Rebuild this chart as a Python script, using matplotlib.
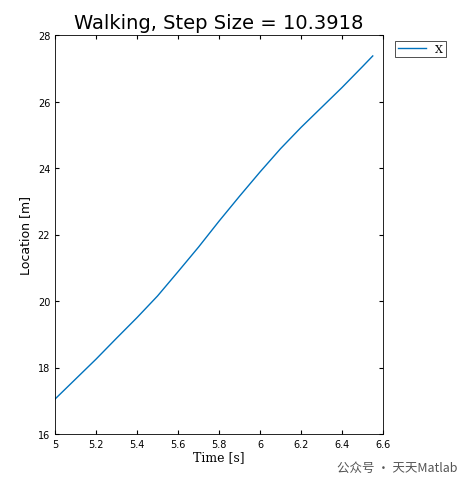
import matplotlib
matplotlib.use("Agg")
import matplotlib.pyplot as plt
import numpy as np

time_s = [5.0, 5.1, 5.2, 5.3, 5.4, 5.5, 5.6, 5.7, 5.8, 5.9, 6.0, 6.1, 6.2, 6.3, 6.4, 6.5, 6.55]
location_m = [17.05, 17.65, 18.25, 18.88, 19.5, 20.15, 20.88, 21.62, 22.4, 23.15, 23.88, 24.58, 25.22, 25.82, 26.42, 27.05, 27.37]

fig = plt.figure(figsize=(4.74, 4.89), dpi=100)
ax = fig.add_axes([55/474, 1-435/489, 328/474, 399/489])
ax.plot(time_s, location_m, color="#0072BD", lw=1.0, label="X")
ax.set_xlim(5, 6.6)
ax.set_ylim(16, 28)
ax.set_xticks(np.arange(5, 6.61, 0.2))
ax.set_xticklabels(["5", "5.2", "5.4", "5.6", "5.8", "6", "6.2", "6.4", "6.6"])
ax.set_yticks(range(16, 29, 2))
ax.tick_params(direction="in", top=True, right=True, labelsize=7, length=3)
for s in ax.spines.values():
    s.set_linewidth(0.6)
ax.set_title("Walking, Step Size = 10.3918", fontsize=14, pad=5)
ax.set_xlabel("Time [s]", family="DejaVu Serif", fontsize=9, labelpad=1)
ax.set_ylabel("Location [m]", fontsize=9)
leg = ax.legend(loc="upper left", bbox_to_anchor=(1.02, 1.0), fancybox=False,
                edgecolor="black", prop={"family": "DejaVu Serif", "size": 8},
                handlelength=2.5, borderpad=0.3)
leg.get_frame().set_linewidth(0.6)
fig.text(0.71, 0.035, "公众号 · 天天Matlab", family=["Noto Sans CJK SC", "DejaVu Sans"],
         fontsize=9, color="#555555")
fig.savefig("out.png", dpi=100)
